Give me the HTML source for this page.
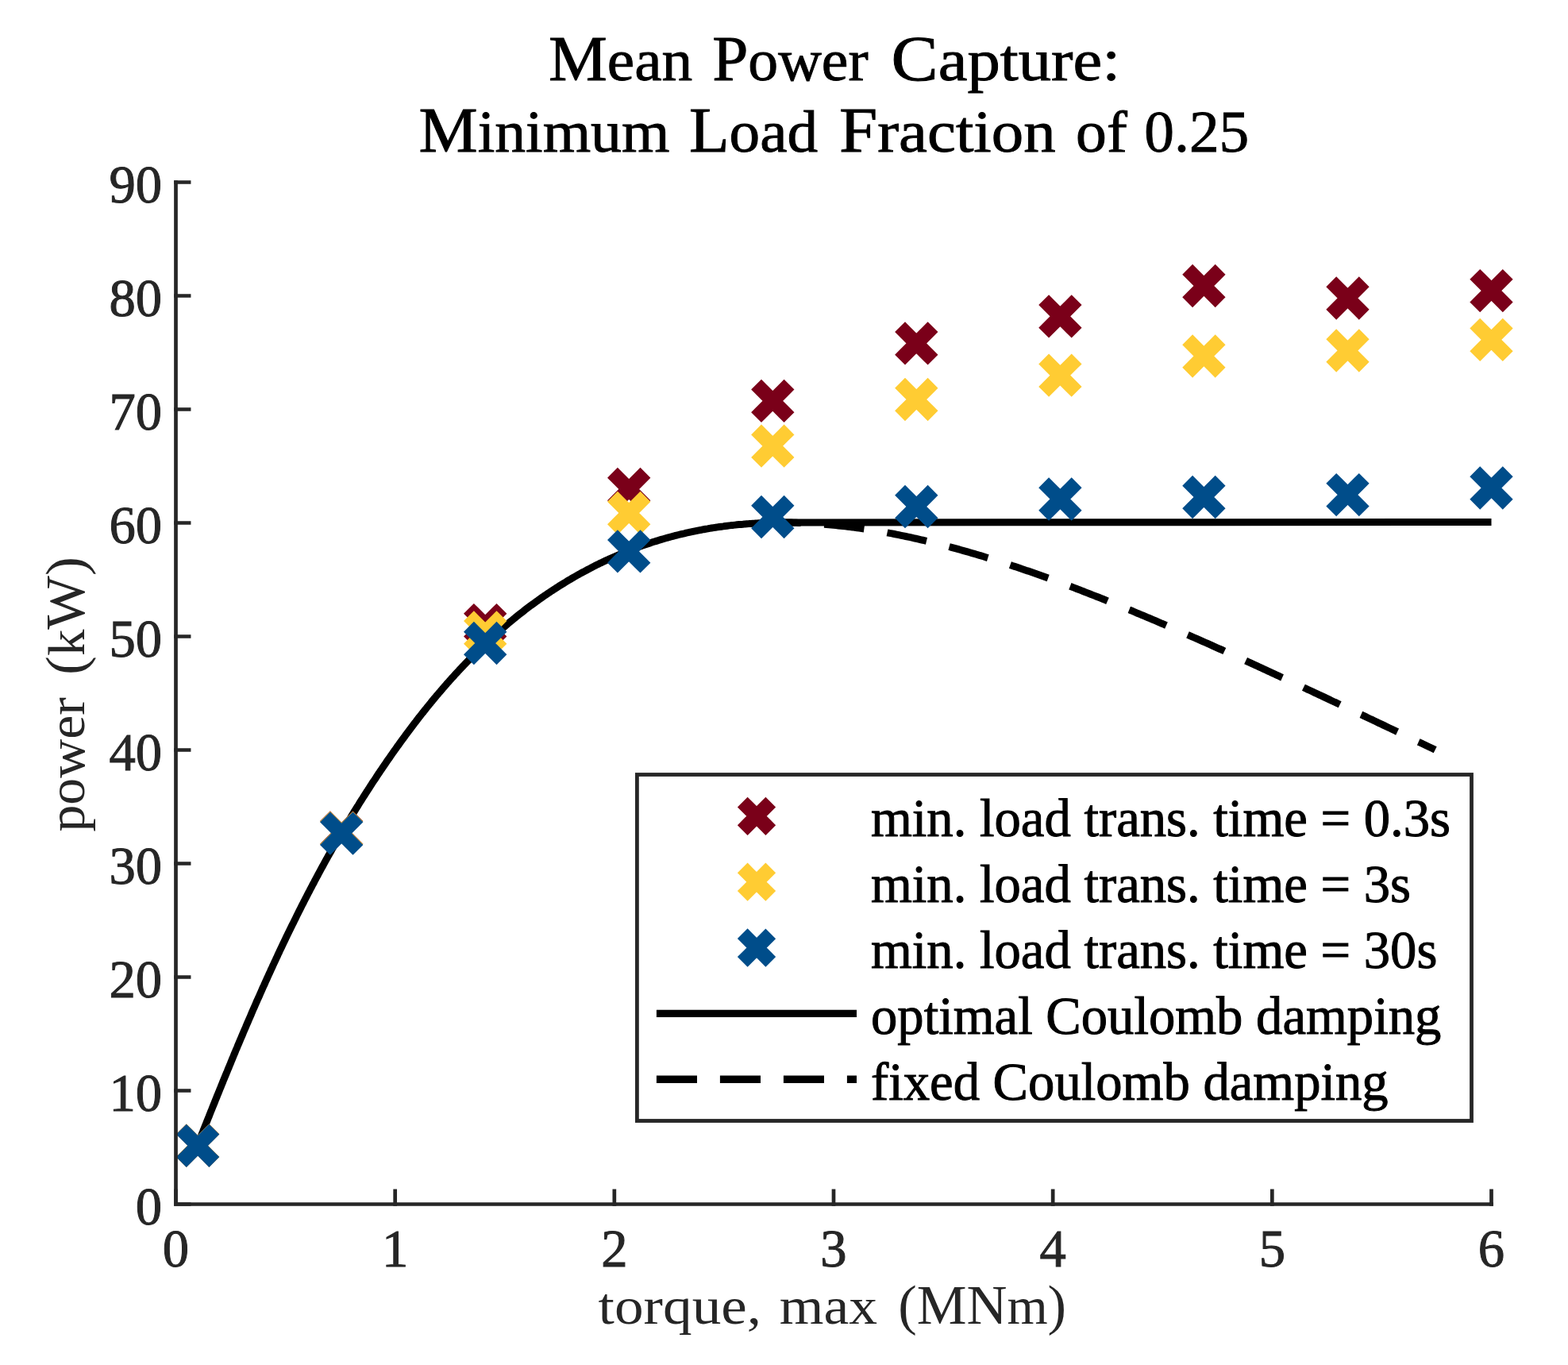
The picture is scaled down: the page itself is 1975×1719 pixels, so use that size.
<!DOCTYPE html>
<html><head><meta charset="utf-8"><title>Mean Power Capture</title>
<style>
html,body{margin:0;padding:0;background:#fff;}
svg{display:block;}
text{font-family:"Liberation Serif","Times New Roman",serif;}
</style></head><body>
<svg width="1975" height="1719" viewBox="0 0 1975 1719">
<rect width="1975" height="1719" fill="#fff"/>
<g fill="#000" stroke="#000" stroke-width="0.9"><text x="691.01" y="101.4" textLength="181.23" lengthAdjust="spacingAndGlyphs"><tspan font-size="79.6">M</tspan><tspan font-size="74.2">ean</tspan></text><text x="897.16" y="101.4" textLength="196.54" lengthAdjust="spacingAndGlyphs"><tspan font-size="79.6">P</tspan><tspan font-size="74.2">ower</tspan></text><text x="1122.56" y="101.4" textLength="288.70" lengthAdjust="spacingAndGlyphs"><tspan font-size="79.6">C</tspan><tspan font-size="74.2">apture:</tspan></text><text x="527.50" y="191.0" textLength="315.93" lengthAdjust="spacingAndGlyphs"><tspan font-size="79.6">M</tspan><tspan font-size="74.2">inimum</tspan></text><text x="867.92" y="191.0" textLength="162.18" lengthAdjust="spacingAndGlyphs"><tspan font-size="79.6">L</tspan><tspan font-size="74.2">oad</tspan></text><text x="1056.92" y="191.0" textLength="272.77" lengthAdjust="spacingAndGlyphs"><tspan font-size="79.6">F</tspan><tspan font-size="74.2">raction</tspan></text><text x="1355.11" y="191.0" textLength="64.68" lengthAdjust="spacingAndGlyphs"><tspan font-size="74.2">of</tspan></text><text x="1441.25" y="191.0" textLength="132.07" lengthAdjust="spacingAndGlyphs"><tspan font-size="73.5">0</tspan><tspan font-size="74.2">.</tspan><tspan font-size="73.5">25</tspan></text></g>
<path d="M958.1 658.7L961.0 658.5 964.0 658.4 967.0 658.3 970.0 658.2 973.0 658.2 975.9 658.1 978.9 658.1 981.9 658.1 984.9 658.0 987.8 658.0 990.8 658.1 993.8 658.1 996.8 658.1 999.8 658.2 1002.7 658.3 1005.7 658.4 1008.7 658.5 M1038.1 660.2L1041.1 660.4 1044.1 660.7 1047.0 661.0 1050.0 661.3 1053.0 661.6 1055.9 661.9 1058.9 662.2 1061.8 662.5 1064.8 662.9 1067.8 663.2 1070.7 663.6 1073.7 663.9 1076.6 664.3 1079.6 664.7 1082.5 665.1 1085.5 665.6 1088.4 666.0 M1117.5 670.8L1120.4 671.4 1123.4 671.9 1126.3 672.5 1129.2 673.1 1132.1 673.7 1135.1 674.3 1138.0 674.9 1140.9 675.5 1143.8 676.1 1146.7 676.7 1149.6 677.3 1152.5 678.0 1155.4 678.6 1158.3 679.3 1161.2 680.0 1164.1 680.6 1167.0 681.3 M1195.6 688.5L1198.5 689.3 1201.4 690.1 1204.3 690.9 1207.1 691.7 1210.0 692.5 1212.9 693.3 1215.7 694.1 1218.6 694.9 1221.5 695.7 1224.3 696.6 1227.2 697.4 1230.0 698.2 1232.9 699.1 1235.7 699.9 1238.6 700.8 1241.4 701.7 1244.3 702.6 M1272.4 711.5L1275.2 712.5 1278.0 713.4 1280.9 714.3 1283.7 715.3 1286.5 716.3 1289.3 717.2 1292.1 718.2 1295.0 719.1 1297.8 720.1 1300.6 721.1 1303.4 722.1 1306.2 723.1 1309.0 724.1 1311.8 725.1 1314.6 726.1 1317.4 727.1 1320.2 728.1 M1347.9 738.3L1350.7 739.4 1353.4 740.4 1356.2 741.5 1359.0 742.6 1361.8 743.6 1364.6 744.7 1367.3 745.8 1370.1 746.9 1372.9 748.0 1375.7 749.1 1378.4 750.1 1381.2 751.2 1384.0 752.3 1386.7 753.4 1389.5 754.5 1392.3 755.6 1395.0 756.8 M1422.3 767.9L1425.1 769.0 1427.8 770.2 1430.6 771.3 1433.3 772.5 1436.1 773.6 1438.8 774.8 1441.6 775.9 1444.3 777.1 1447.1 778.2 1449.8 779.4 1452.6 780.6 1455.3 781.7 1458.0 782.9 1460.8 784.1 1463.5 785.3 1466.3 786.4 1469.0 787.6 M1496.0 799.4L1498.8 800.6 1501.5 801.8 1504.2 803.0 1506.9 804.2 1509.7 805.4 1512.4 806.6 1515.1 807.8 1517.8 809.0 1520.5 810.2 1523.3 811.4 1526.0 812.6 1528.7 813.9 1531.4 815.1 1534.1 816.3 1536.9 817.5 1539.6 818.7 1542.3 820.0 M1569.1 832.1L1571.8 833.4 1574.6 834.6 1577.3 835.9 1580.0 837.1 1582.7 838.3 1585.4 839.6 1588.1 840.8 1590.8 842.1 1593.5 843.3 1596.2 844.6 1598.9 845.8 1601.6 847.1 1604.3 848.3 1607.0 849.6 1609.7 850.8 1612.4 852.1 1615.1 853.3 M1641.9 865.7L1644.6 867.0 1647.3 868.3 1650.0 869.5 1652.7 870.8 1655.4 872.1 1658.1 873.3 1660.8 874.6 1663.5 875.8 1666.2 877.1 1668.9 878.4 1671.5 879.6 1674.2 880.9 1676.9 882.2 1679.6 883.5 1682.3 884.7 1685.0 886.0 1687.7 887.3 M1714.4 899.9L1717.1 901.1 1719.8 902.4 1722.5 903.7 1725.1 905.0 1727.8 906.2 1730.5 907.5 1733.2 908.8 1735.9 910.1 1738.6 911.3 1741.3 912.6 1744.0 913.9 1746.7 915.2 1749.4 916.5 1752.1 917.7 1754.7 919.0 1757.4 920.3 1760.1 921.6 M1786.7 934.3L1789.4 935.5 1792.0 936.8 1794.6 938.0 1797.2 939.3 1799.8 940.5 1802.5 941.8 1805.1 943.0 1807.7 944.3" fill="none" stroke="#000" stroke-width="9" stroke-linecap="butt"/>
<path d="M249.1 1441.3L250.0 1438.9 250.9 1436.6 251.9 1434.3 252.8 1432.0 253.7 1429.7 254.6 1427.3 255.6 1425.0 256.5 1422.7 257.4 1420.4 258.3 1418.1 259.3 1415.8 260.2 1413.4 261.1 1411.1 262.0 1408.8 263.0 1406.5 263.9 1404.2 264.8 1401.9 265.7 1399.5 266.7 1397.2 267.6 1394.9 268.5 1392.6 269.5 1390.3 270.4 1388.0 271.3 1385.7 272.3 1383.3 273.2 1381.0 274.1 1378.7 275.1 1376.4 276.0 1374.1 276.9 1371.8 277.9 1369.5 278.8 1367.2 279.8 1364.8 280.7 1362.5 281.6 1360.2 282.6 1357.9 283.5 1355.6 284.5 1353.3 285.4 1351.0 286.4 1348.7 287.3 1346.4 288.3 1344.1 289.2 1341.8 290.2 1339.5 291.1 1337.2 292.1 1334.8 293.0 1332.5 294.0 1330.2 294.9 1327.9 295.9 1325.6 296.8 1323.3 297.8 1321.0 298.8 1318.7 299.7 1316.4 300.7 1314.1 301.7 1311.8 302.6 1309.5 303.6 1307.2 304.6 1304.9 305.6 1302.6 306.5 1300.3 307.5 1298.0 308.5 1295.7 309.5 1293.5 310.4 1291.2 311.4 1288.9 312.4 1286.6 313.4 1284.3 314.4 1282.0 315.4 1279.7 316.4 1277.4 317.3 1275.1 318.3 1272.8 319.3 1270.5 320.3 1268.3 321.3 1266.0 322.3 1263.7 323.3 1261.4 324.3 1259.1 325.4 1256.8 326.4 1254.6 327.4 1252.3 328.4 1250.0 329.4 1247.7 330.4 1245.4 331.4 1243.2 332.5 1240.9 333.5 1238.6 334.5 1236.3 335.5 1234.1 336.6 1231.8 337.6 1229.5 338.6 1227.2 339.7 1225.0 340.7 1222.7 341.7 1220.4 342.8 1218.2 343.8 1215.9 344.9 1213.6 345.9 1211.4 347.0 1209.1 348.0 1206.9 349.1 1204.6 350.1 1202.3 351.2 1200.1 352.2 1197.8 353.3 1195.6 354.4 1193.3 355.4 1191.1 356.5 1188.8 357.6 1186.6 358.7 1184.3 359.7 1182.1 360.8 1179.8 361.9 1177.6 363.0 1175.3 364.1 1173.1 365.2 1170.8 366.3 1168.6 367.4 1166.3 368.5 1164.1 369.6 1161.9 370.7 1159.6 371.8 1157.4 372.9 1155.2 374.0 1152.9 375.1 1150.7 376.2 1148.5 377.4 1146.2 378.5 1144.0 379.6 1141.8 380.7 1139.6 381.9 1137.3 383.0 1135.1 384.1 1132.9 385.3 1130.7 386.4 1128.5 387.6 1126.2 388.7 1124.0 389.9 1121.8 391.0 1119.6 392.2 1117.4 393.3 1115.2 394.5 1113.0 395.7 1110.8 396.8 1108.6 398.0 1106.4 399.2 1104.2 400.4 1102.0 401.5 1099.8 402.7 1097.6 403.9 1095.4 405.1 1093.2 406.3 1091.0 407.5 1088.8 408.7 1086.6 409.9 1084.4 411.1 1082.3 412.3 1080.1 413.5 1077.9 414.8 1075.7 416.0 1073.5 417.2 1071.4 418.4 1069.2 419.7 1067.0 420.9 1064.9 422.1 1062.7 423.4 1060.5 424.6 1058.4 425.9 1056.2 427.1 1054.1 428.4 1051.9 429.6 1049.7 430.9 1047.6 432.2 1045.4 433.4 1043.3 434.7 1041.2 436.0 1039.0 437.3 1036.9 438.5 1034.7 439.8 1032.6 441.1 1030.5 442.4 1028.3 443.7 1026.2 445.0 1024.1 446.3 1021.9 447.6 1019.8 448.9 1017.7 450.3 1015.6 451.6 1013.5 452.9 1011.3 454.2 1009.2 455.6 1007.1 456.9 1005.0 458.2 1002.9 459.6 1000.8 460.9 998.7 462.3 996.6 463.6 994.5 465.0 992.4 466.3 990.3 467.7 988.2 469.0 986.1 470.4 984.0 471.8 982.0 473.2 979.9 474.5 977.8 475.9 975.7 477.3 973.7 478.7 971.6 480.1 969.5 481.5 967.4 482.9 965.4 484.3 963.3 485.7 961.3 487.1 959.2 488.5 957.2 490.0 955.1 491.4 953.1 492.8 951.0 494.2 949.0 495.7 946.9 497.1 944.9 498.6 942.9 500.0 940.8 501.5 938.8 502.9 936.8 504.4 934.8 505.8 932.7 507.3 930.7 508.8 928.7 510.3 926.7 511.7 924.7 513.2 922.7 514.7 920.7 516.2 918.7 517.7 916.7 519.2 914.7 520.7 912.7 522.2 910.7 523.8 908.8 525.3 906.8 526.8 904.8 528.3 902.8 529.9 900.9 531.4 898.9 533.0 897.0 534.5 895.0 536.1 893.1 537.6 891.1 539.2 889.2 540.8 887.2 542.4 885.3 543.9 883.4 545.5 881.4 547.1 879.5 548.7 877.6 550.3 875.7 551.9 873.8 553.5 871.9 555.2 870.0 556.8 868.1 558.4 866.2 560.1 864.3 561.7 862.4 563.3 860.6 565.0 858.7 566.7 856.8 568.3 855.0 570.0 853.1 571.7 851.3 573.3 849.4 575.0 847.6 576.7 845.8 578.4 843.9 580.1 842.1 581.8 840.3 583.6 838.5 585.3 836.7 587.0 834.9 588.7 833.1 590.5 831.3 592.2 829.5 594.0 827.8 595.7 826.0 597.5 824.2 599.3 822.5 601.0 820.7 602.8 819.0 604.6 817.2 606.4 815.5 608.2 813.8 610.0 812.0 611.8 810.3 613.6 808.6 615.5 806.9 617.3 805.2 619.1 803.5 621.0 801.9 622.8 800.2 624.7 798.5 626.6 796.9 628.4 795.2 630.3 793.6 632.2 791.9 634.1 790.3 636.0 788.7 637.9 787.1 639.8 785.4 641.7 783.8 643.6 782.2 645.5 780.7 647.5 779.1 649.4 777.5 651.3 775.9 653.3 774.4 655.2 772.8 657.2 771.3 659.2 769.8 661.1 768.2 663.1 766.7 665.1 765.2 667.1 763.7 669.1 762.2 671.1 760.8 673.1 759.3 675.1 757.8 677.2 756.4 679.2 754.9 681.2 753.5 683.3 752.0 685.3 750.6 687.4 749.2 689.5 747.8 691.5 746.4 693.6 745.0 695.7 743.7 697.8 742.3 699.9 740.9 702.0 739.6 704.1 738.2 706.2 736.9 708.3 735.6 710.4 734.3 712.6 733.0 714.7 731.7 716.8 730.4 719.0 729.2 721.1 727.9 723.3 726.6 725.5 725.4 727.6 724.2 729.8 723.0 732.0 721.7 734.2 720.5 736.4 719.4 738.6 718.2 740.8 717.0 743.0 715.9 745.2 714.7 747.4 713.6 749.6 712.4 751.9 711.3 754.1 710.2 756.3 709.1 758.6 708.1 760.8 707.0 763.1 705.9 765.4 704.9 767.6 703.8 769.9 702.8 772.2 701.8 774.5 700.8 776.8 699.8 779.1 698.8 781.4 697.8 783.7 696.9 786.0 695.9 788.3 695.0 790.6 694.1 792.9 693.2 795.2 692.3 797.6 691.4 799.9 690.5 802.2 689.6 804.6 688.8 806.9 687.9 809.3 687.1 811.6 686.3 814.0 685.5 816.4 684.7 818.7 683.9 821.1 683.1 823.5 682.3 825.9 681.6 828.2 680.9 830.6 680.1 833.0 679.4 835.4 678.7 837.8 678.0 840.2 677.3 842.6 676.7 845.0 676.0 847.4 675.4 849.8 674.7 852.3 674.1 854.7 673.5 857.1 672.9 859.5 672.3 862.0 671.8 864.4 671.2 866.8 670.7 869.3 670.1 871.7 669.6 874.1 669.1 876.6 668.6 879.0 668.1 881.5 667.6 883.9 667.2 886.4 666.7 888.8 666.3 891.3 665.9 893.8 665.4 896.2 665.0 898.7 664.6 901.1 664.3 903.6 663.9 906.1 663.5 908.6 663.2 911.0 662.9 913.5 662.5 916.0 662.2 918.5 661.9 920.9 661.6 923.4 661.4 925.9 661.1 928.4 660.8 930.9 660.6 933.3 660.4 935.8 660.2 938.3 659.9 940.8 659.7 943.3 659.6 945.8 659.4 948.3 659.2 950.8 659.1 953.2 658.9 955.7 658.8 958.2 658.7 960.7 658.6 963.2 658.5 965.7 658.4 968.2 658.3 970.7 658.2 973.2 658.2 975.7 658.1 978.2 658.1 980.7 658.1 983.2 658.0 985.7 658.0 L1878.5 657.45" fill="none" stroke="#000" stroke-width="9" stroke-linecap="butt" stroke-linejoin="round"/>
<g fill="none" stroke-linecap="square">
<path d="M234.8 1428.3l28.6 28.6M234.8 1456.9l28.6 -28.6 M415.9 1034.1l28.6 28.6M415.9 1062.7l28.6 -28.6 M596.9 772.8l28.6 28.6M596.9 801.4l28.6 -28.6 M777.9 601.7l28.6 28.6M777.9 630.3l28.6 -28.6 M959.0 490.6l28.6 28.6M959.0 519.2l28.6 -28.6 M1140.0 418.1l28.6 28.6M1140.0 446.7l28.6 -28.6 M1321.1 384.1l28.6 28.6M1321.1 412.7l28.6 -28.6 M1502.1 345.7l28.6 28.6M1502.1 374.3l28.6 -28.6 M1683.2 361.2l28.6 28.6M1683.2 389.8l28.6 -28.6 M1864.2 351.8l28.6 28.6M1864.2 380.4l28.6 -28.6" stroke="#7a0019" stroke-width="18.2"/>
<path d="M234.8 1428.3l28.6 28.6M234.8 1456.9l28.6 -28.6 M415.9 1034.5l28.6 28.6M415.9 1063.1l28.6 -28.6 M596.9 782.1l28.6 28.6M596.9 810.7l28.6 -28.6 M777.9 631.7l28.6 28.6M777.9 660.3l28.6 -28.6 M959.0 547.4l28.6 28.6M959.0 576.0l28.6 -28.6 M1140.0 488.7l28.6 28.6M1140.0 517.3l28.6 -28.6 M1321.1 458.4l28.6 28.6M1321.1 487.0l28.6 -28.6 M1502.1 434.2l28.6 28.6M1502.1 462.8l28.6 -28.6 M1683.2 427.2l28.6 28.6M1683.2 455.8l28.6 -28.6 M1864.2 413.6l28.6 28.6M1864.2 442.2l28.6 -28.6" stroke="#ffcc33" stroke-width="18.2"/>
<path d="M234.8 1428.5l28.6 28.6M234.8 1457.1l28.6 -28.6 M415.9 1035.3l28.6 28.6M415.9 1063.9l28.6 -28.6 M596.9 795.7l28.6 28.6M596.9 824.3l28.6 -28.6 M777.9 680.1l28.6 28.6M777.9 708.7l28.6 -28.6 M959.0 636.7l28.6 28.6M959.0 665.3l28.6 -28.6 M1140.0 623.7l28.6 28.6M1140.0 652.3l28.6 -28.6 M1321.1 614.2l28.6 28.6M1321.1 642.8l28.6 -28.6 M1502.1 611.7l28.6 28.6M1502.1 640.3l28.6 -28.6 M1683.2 608.8l28.6 28.6M1683.2 637.4l28.6 -28.6 M1864.2 600.2l28.6 28.6M1864.2 628.8l28.6 -28.6" stroke="#004d8a" stroke-width="18.2"/>
</g>
<g fill="none" stroke="#262626" stroke-width="4.7" stroke-linecap="square">
<path d="M221.5 229.5V1516.5H1878.5" stroke-linejoin="miter"/>
<path d="M221.50 1516.50H238.10M221.50 1373.50H238.10M221.50 1230.50H238.10M221.50 1087.50H238.10M221.50 944.50H238.10M221.50 801.50H238.10M221.50 658.50H238.10M221.50 515.50H238.10M221.50 372.50H238.10M221.50 229.50H238.10M221.50 1516.50V1499.90M497.67 1516.50V1499.90M773.83 1516.50V1499.90M1050.00 1516.50V1499.90M1326.17 1516.50V1499.90M1602.33 1516.50V1499.90M1878.50 1516.50V1499.90"/>
</g>
<g fill="#262626" font-size="66.67">
<g stroke="#262626" stroke-width="1">
<g text-anchor="end"><text x="204.2" y="1542.2">0</text><text x="204.2" y="1399.2">10</text><text x="204.2" y="1256.2">20</text><text x="204.2" y="1113.2">30</text><text x="204.2" y="970.2">40</text><text x="204.2" y="827.2">50</text><text x="204.2" y="684.2">60</text><text x="204.2" y="541.2">70</text><text x="204.2" y="398.2">80</text><text x="204.2" y="255.2">90</text></g>
<g text-anchor="middle"><text x="221.5" y="1595">0</text><text x="497.7" y="1595">1</text><text x="773.8" y="1595">2</text><text x="1050.0" y="1595">3</text><text x="1326.2" y="1595">4</text><text x="1602.3" y="1595">5</text><text x="1878.5" y="1595">6</text></g>
</g>
<g><text x="753.60" y="1667.0" textLength="205.54" lengthAdjust="spacingAndGlyphs"><tspan font-size="65.8">torque,</tspan></text><text x="981.71" y="1667.0" textLength="123.28" lengthAdjust="spacingAndGlyphs"><tspan font-size="65.8">max</tspan></text><text x="1131.20" y="1667.0" textLength="211.91" lengthAdjust="spacingAndGlyphs"><tspan font-size="70.6">(MN</tspan><tspan font-size="65.8">m</tspan><tspan font-size="70.6">)</tspan></text><g transform="translate(105.8 0) rotate(-90)"><text x="-1047.63" y="0.0" textLength="169.54" lengthAdjust="spacingAndGlyphs"><tspan font-size="65.8">power</tspan></text><text x="-849.94" y="0.0" textLength="148.69" lengthAdjust="spacingAndGlyphs"><tspan font-size="70.6">(</tspan><tspan font-size="65.8">k</tspan><tspan font-size="70.6">W)</tspan></text></g></g>
</g>
<rect x="802.4" y="975.5" width="1051.1" height="436" fill="#fff" stroke="#262626" stroke-width="4.8"/>
<g fill="none" stroke-linecap="square">
<path d="M941.6 1016.4l22.8 22.8M941.6 1039.2l22.8 -22.8" stroke="#7a0019" stroke-width="18"/>
<path d="M941.6 1099.3l22.8 22.8M941.6 1122.1l22.8 -22.8" stroke="#ffcc33" stroke-width="18"/>
<path d="M941.6 1182.1l22.8 22.8M941.6 1205.0l22.8 -22.8" stroke="#004d8a" stroke-width="18"/>
</g>
<path d="M826.9 1276.4H1079" stroke="#000" stroke-width="9.1"/>
<path d="M826.9 1359.25H1079" stroke="#000" stroke-width="9.5" stroke-dasharray="51.1 28.9"/>
<g fill="#000" stroke="#000" stroke-width="1" font-size="66.67"><text x="1097" y="1053.0">min. load trans. time = 0.3s</text><text x="1097" y="1135.9">min. load trans. time = 3s</text><text x="1097" y="1218.8">min. load trans. time = 30s</text><text x="1097" y="1301.6">optimal Coulomb damping</text><text x="1097" y="1384.5">fixed Coulomb damping</text></g>
</svg>
</body></html>
